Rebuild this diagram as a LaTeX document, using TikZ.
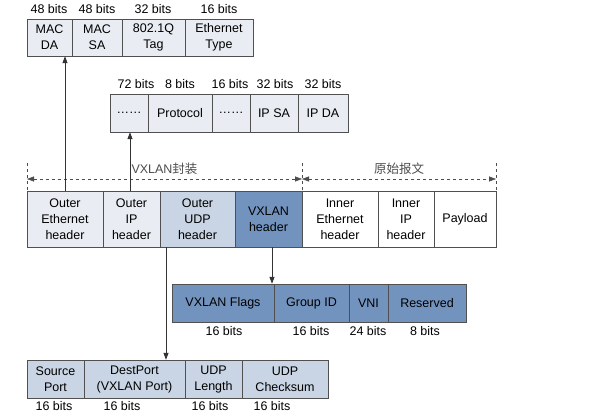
\documentclass[tikz,border=0pt]{standalone}
\usepackage{fontspec}
\setmainfont{Liberation Sans}
\newfontfamily\cjk{Noto Sans CJK SC}
\usetikzlibrary{arrows.meta}
\definecolor{paleblue}{HTML}{E9EDF3}
\definecolor{midblue}{HTML}{C9D5E4}
\definecolor{deepblue}{HTML}{7393BF}
\definecolor{edgegray}{HTML}{505050}
\tikzset{
  field/.style={draw=edgegray, inner sep=0pt, align=center, font=\fontsize{12.5}{16}\selectfont},
  bits/.style={font=\fontsize{12.5}{14}\selectfont, inner sep=0pt},
  link/.style={-{Triangle[length=7pt,width=5pt]}, thick, black!80},
  span/.style={dashed, {Triangle[length=7pt,width=5pt]}-{Triangle[length=7pt,width=5pt]}, black!70},
}
% \field{name}{x1}{x2}{y1}{y2}{fill}{text}
\newcommand{\field}[7]{%
  \node[field, fill=#6, minimum width=#3pt-#2pt, minimum height=#5pt-#4pt]
    (#1) at ({(#2+#3)/2}, {(#4+#5)/2}) {#7};}
\begin{document}
\begin{tikzpicture}[x=1pt, y=-1pt]
    \useasboundingbox (0,0) rectangle (603,420);
    % Ethernet header fields
    \field{macda}{27}{72}{19}{56}{paleblue}{MAC\\DA}
    \field{macsa}{72}{122}{19}{56}{paleblue}{MAC\\SA}
    \field{tag}{122}{185}{19}{56}{paleblue}{802.1Q\\Tag}
    \field{etype}{185}{253}{19}{56}{paleblue}{Ethernet\\Type}
    \node[bits] at (49,9) {48 bits};
    \node[bits] at (97,9) {48 bits};
    \node[bits] at (153,9) {32 bits};
    \node[bits] at (219,9) {16 bits};
    % IP header fields
    \field{ipa}{110}{148}{94}{132}{paleblue}{\dots\dots}
    \field{proto}{148}{212}{94}{132}{paleblue}{Protocol}
    \field{ipb}{212}{250}{94}{132}{paleblue}{\dots\dots}
    \field{ipsa}{250}{298}{94}{132}{paleblue}{IP SA}
    \field{ipda}{298}{348}{94}{132}{paleblue}{IP DA}
    \node[bits] at (136,84) {72 bits};
    \node[bits] at (180,84) {8 bits};
    \node[bits] at (230,84) {16 bits};
    \node[bits] at (275,84) {32 bits};
    \node[bits] at (323,84) {32 bits};

    % encapsulation spans
    \coordinate (s0) at (27,179);
    \coordinate (s1) at (302,179);
    \coordinate (s2) at (496,179);
    \foreach \x in {27,302,496}
        \draw[dashed, black!70] (\x,163) -- (\x,191);
    \draw[span] (s0) -- (s1) node[midway, above=1pt, font=\fontsize{12.5}{14}\selectfont] {VXLAN{\cjk 封装}};
    \draw[span] (s1) -- (s2) node[midway, above=1pt, font=\fontsize{12.5}{14}\selectfont\cjk] {原始报文};

    % VXLAN packet
    \field{oeth}{27}{103}{191}{247}{paleblue}{Outer\\Ethernet\\header}
    \field{oip}{103}{160}{191}{247}{paleblue}{Outer\\IP\\header}
    \field{oudp}{160}{235}{191}{247}{midblue}{Outer\\UDP\\header}
    \field{vxh}{235}{302}{191}{247}{deepblue}{VXLAN\\header}
    \field{ieth}{302}{378}{191}{247}{white}{Inner\\Ethernet\\header}
    \field{iip}{378}{434}{191}{247}{white}{Inner\\IP\\header}
    \field{pay}{434}{496}{191}{247}{white}{Payload}

    % VXLAN header fields
    \field{flags}{172}{274}{284}{322}{deepblue}{VXLAN Flags}
    \field{gid}{274}{349}{284}{322}{deepblue}{Group ID}
    \field{vni}{349}{388}{284}{322}{deepblue}{VNI}
    \field{resv}{388}{466}{284}{322}{deepblue}{Reserved}
    \node[bits] at (224,331) {16 bits};
    \node[bits] at (311,331) {16 bits};
    \node[bits] at (368,331) {24 bits};
    \node[bits] at (425,331) {8 bits};

    % UDP header fields
    \field{sport}{27}{84}{360}{398}{midblue}{Source\\Port}
    \field{dport}{84}{185}{360}{398}{midblue}{DestPort\\(VXLAN Port)}
    \field{ulen}{185}{242}{360}{398}{midblue}{UDP\\Length}
    \field{usum}{242}{328}{360}{398}{midblue}{UDP\\Checksum}
    \node[bits] at (54,406) {16 bits};
    \node[bits] at (122,406) {16 bits};
    \node[bits] at (210,406) {16 bits};
    \node[bits] at (272,406) {16 bits};

    % links
    \coordinate (e0) at (65,191);
    \coordinate (i0) at (130,191);
    \coordinate (u0) at (166,247);
    \coordinate (v0) at (272,247);
    \draw[link] (e0) -- (e0 |- macda.south);
    \draw[link] (i0) -- (i0 |- ipa.south);
    \draw[link] (u0) -- (u0 |- dport.north);
    \draw[link] (v0) -- (v0 |- flags.north);
\end{tikzpicture}
\end{document}
